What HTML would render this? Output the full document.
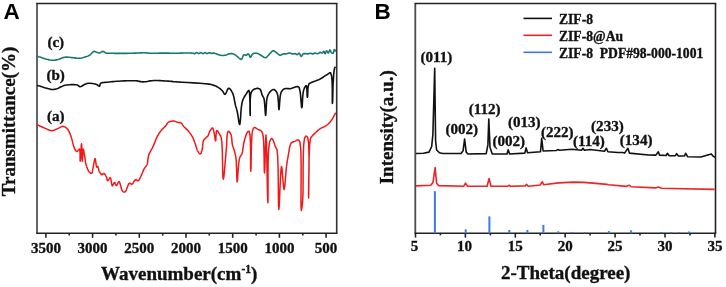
<!DOCTYPE html>
<html><head><meta charset="utf-8"><style>
html,body{margin:0;padding:0;background:#fff;}
svg{display:block;will-change:transform;}
.ax{stroke:#222;stroke-width:1.6;}
.tk{font-family:"Liberation Serif",serif;font-weight:bold;font-size:15px;text-anchor:middle;fill:#111;stroke:#111;stroke-width:0.35px;}
.lb{font-family:"Liberation Serif",serif;font-weight:bold;font-size:15.1px;fill:#111;stroke:#111;stroke-width:0.35px;}
.tt{font-family:"Liberation Serif",serif;font-weight:bold;font-size:19px;fill:#111;stroke:#111;stroke-width:0.35px;}
.lg{font-family:"Liberation Serif",serif;font-weight:bold;font-size:13.6px;fill:#111;stroke:#111;stroke-width:0.35px;}
.pn{font-family:"Liberation Sans",sans-serif;font-weight:bold;font-size:22.5px;fill:#000;}
.bl{stroke:#3f7ae0;stroke-width:2;}
polyline{fill:none;stroke-linejoin:round;}
</style></head><body>
<svg width="726" height="287" viewBox="0 0 726 287">
<text x="3.6" y="18.8" class="pn">A</text>
<text x="374.6" y="19.3" class="pn">B</text>
<!-- panel A frame -->
<line x1="37" y1="3.5" x2="37" y2="233.3" stroke="#555" stroke-width="1.8"/>
<line x1="36.2" y1="3.5" x2="337.5" y2="3.5" stroke="#222" stroke-width="1.6"/>
<line x1="336.7" y1="3.5" x2="336.7" y2="233.3" stroke="#333" stroke-width="1.6"/>
<line x1="36.2" y1="233.3" x2="337.5" y2="233.3" stroke="#222" stroke-width="1.6"/>
<!-- panel B frame -->
<line x1="415.3" y1="3.5" x2="415.3" y2="233.3" stroke="#4a4a4a" stroke-width="1.8"/>
<line x1="414.5" y1="3.5" x2="716.3" y2="3.5" stroke="#222" stroke-width="1.6"/>
<line x1="715.5" y1="3.5" x2="715.5" y2="233.3" stroke="#222" stroke-width="1.6"/>
<line x1="414.5" y1="233.3" x2="716.3" y2="233.3" stroke="#222" stroke-width="1.6"/>
<line x1="326.1" y1="233.3" x2="326.1" y2="237.8" class="ax"/><line x1="279.4" y1="233.3" x2="279.4" y2="237.8" class="ax"/><line x1="232.7" y1="233.3" x2="232.7" y2="237.8" class="ax"/><line x1="186.0" y1="233.3" x2="186.0" y2="237.8" class="ax"/><line x1="139.3" y1="233.3" x2="139.3" y2="237.8" class="ax"/><line x1="92.6" y1="233.3" x2="92.6" y2="237.8" class="ax"/><line x1="45.9" y1="233.3" x2="45.9" y2="237.8" class="ax"/><line x1="302.8" y1="233.3" x2="302.8" y2="235.6" class="ax"/><line x1="256.1" y1="233.3" x2="256.1" y2="235.6" class="ax"/><line x1="209.3" y1="233.3" x2="209.3" y2="235.6" class="ax"/><line x1="162.7" y1="233.3" x2="162.7" y2="235.6" class="ax"/><line x1="115.9" y1="233.3" x2="115.9" y2="235.6" class="ax"/><line x1="69.2" y1="233.3" x2="69.2" y2="235.6" class="ax"/><line x1="415.5" y1="233.3" x2="415.5" y2="237.6" class="ax"/><line x1="465.4" y1="233.3" x2="465.4" y2="237.6" class="ax"/><line x1="515.3" y1="233.3" x2="515.3" y2="237.6" class="ax"/><line x1="565.2" y1="233.3" x2="565.2" y2="237.6" class="ax"/><line x1="615.1" y1="233.3" x2="615.1" y2="237.6" class="ax"/><line x1="665.0" y1="233.3" x2="665.0" y2="237.6" class="ax"/><line x1="714.9" y1="233.3" x2="714.9" y2="237.6" class="ax"/><line x1="440.4" y1="233.3" x2="440.4" y2="235.4" class="ax"/><line x1="490.4" y1="233.3" x2="490.4" y2="235.4" class="ax"/><line x1="540.2" y1="233.3" x2="540.2" y2="235.4" class="ax"/><line x1="590.1" y1="233.3" x2="590.1" y2="235.4" class="ax"/><line x1="640.0" y1="233.3" x2="640.0" y2="235.4" class="ax"/><line x1="690.0" y1="233.3" x2="690.0" y2="235.4" class="ax"/>
<text x="326.1" y="252.9" class="tk">500</text><text x="279.4" y="252.9" class="tk">1000</text><text x="232.7" y="252.9" class="tk">1500</text><text x="186.0" y="252.9" class="tk">2000</text><text x="139.3" y="252.9" class="tk">2500</text><text x="92.6" y="252.9" class="tk">3000</text><text x="45.9" y="252.9" class="tk">3500</text><text x="414.5" y="250.6" class="tk">5</text><text x="464.4" y="250.6" class="tk">10</text><text x="515.3" y="250.6" class="tk">15</text><text x="565.2" y="250.6" class="tk">20</text><text x="615.1" y="250.6" class="tk">25</text><text x="665.0" y="250.6" class="tk">30</text><text x="714.9" y="250.6" class="tk">35</text>
<text x="101" y="279.8" class="tt">Wavenumber(cm<tspan dy="-6.5" font-size="11.5px">-1</tspan><tspan dy="6.5">)</tspan></text>
<text x="501" y="279.3" class="tt">2-Theta(degree)</text>
<text transform="translate(14.8,121.5) rotate(-90)" text-anchor="middle" class="tt">Transmittance(%)</text>
<text transform="translate(393.4,127.3) rotate(-90)" text-anchor="middle" class="tt">Intensity(a.u.)</text>
<text x="47.4" y="46.5" class="lb">(c)</text>
<text x="46.4" y="80" class="lb">(b)</text>
<text x="47" y="121.3" class="lb">(a)</text>
<polyline points="37.4,56.2 37.7,56.3 38.6,56.7 39.8,57.1 41.2,57.6 42.7,58.1 44.0,58.5 45.4,58.9 46.8,59.3 48.3,59.6 49.8,60.0 51.2,60.2 52.5,60.3 53.5,60.3 54.4,60.2 55.3,60.1 56.2,59.9 57.1,59.7 58.0,59.5 59.1,59.2 60.2,58.7 61.4,58.3 62.6,57.8 63.7,57.4 64.9,57.2 66.1,57.1 67.2,57.1 68.4,57.2 69.6,57.3 70.8,57.5 72.0,57.6 73.3,57.7 74.7,57.9 76.1,58.1 77.5,58.2 78.8,58.3 80.0,58.3 80.9,58.2 81.8,58.0 82.6,57.8 83.4,57.5 84.2,57.3 85.0,57.0 85.8,56.7 86.6,56.5 87.4,56.2 88.2,55.9 89.0,55.5 89.7,55.1 90.5,54.5 91.2,53.8 91.9,53.0 92.6,52.3 93.3,51.7 93.9,51.4 94.3,51.4 94.6,51.4 94.9,51.5 95.3,51.7 95.6,51.9 96.0,52.0 96.5,52.2 97.1,52.4 97.7,52.6 98.2,52.8 98.8,53.0 99.4,53.0 100.0,52.8 100.5,52.5 101.1,52.2 101.7,51.8 102.2,51.5 102.8,51.4 103.3,51.5 103.9,51.8 104.4,52.1 104.9,52.5 105.5,52.9 106.1,53.1 107.0,53.3 107.9,53.3 108.9,53.3 109.9,53.3 110.9,53.3 112.0,53.3 113.3,53.3 114.5,53.4 115.9,53.4 117.2,53.4 118.6,53.4 120.0,53.4 121.6,53.4 123.2,53.4 124.8,53.4 126.5,53.4 128.2,53.3 130.0,53.3 132.4,53.2 135.1,53.1 137.8,53.0 140.5,52.9 142.9,52.8 145.0,52.8 146.0,52.9 146.8,52.9 147.5,53.0 148.3,53.1 149.1,53.2 150.0,53.3 151.7,53.3 153.6,53.3 155.6,53.3 157.8,53.2 159.9,53.1 162.0,53.1 164.1,53.1 166.2,53.1 168.4,53.1 170.5,53.2 172.7,53.2 175.0,53.2 177.9,53.2 181.1,53.1 184.3,53.0 187.4,53.0 190.0,53.0 192.0,53.1 192.6,53.2 193.1,53.3 193.5,53.4 193.8,53.5 194.2,53.6 194.6,53.6 195.0,53.5 195.3,53.3 195.7,53.1 196.0,52.8 196.4,52.7 196.7,52.6 197.1,52.7 197.4,52.9 197.8,53.1 198.1,53.3 198.5,53.5 198.8,53.6 199.1,53.5 199.5,53.3 199.8,53.1 200.1,52.9 200.5,52.7 200.8,52.6 201.1,52.7 201.5,52.9 201.8,53.1 202.2,53.3 202.5,53.5 202.9,53.6 203.3,53.5 203.6,53.3 204.0,53.1 204.3,52.9 204.7,52.7 205.0,52.6 205.3,52.7 205.7,52.9 206.0,53.1 206.3,53.3 206.7,53.5 207.0,53.6 207.3,53.5 207.7,53.4 208.0,53.2 208.4,53.0 208.7,52.8 209.1,52.7 209.5,52.7 209.9,52.8 210.3,53.0 210.7,53.2 211.1,53.3 211.5,53.4 211.9,53.4 212.3,53.3 212.7,53.2 213.1,53.1 213.5,53.1 214.0,53.1 214.6,53.2 215.3,53.5 216.0,53.7 216.8,54.1 217.5,54.4 218.2,54.6 218.8,54.8 219.5,55.0 220.1,55.2 220.8,55.3 221.4,55.4 222.0,55.5 222.6,55.5 223.1,55.5 223.6,55.5 224.2,55.4 224.7,55.3 225.3,55.2 226.1,55.0 226.9,54.7 227.8,54.3 228.6,54.0 229.5,53.7 230.3,53.6 231.0,53.6 231.7,53.6 232.4,53.8 233.1,53.9 233.8,54.1 234.4,54.4 235.0,54.7 235.6,55.1 236.1,55.5 236.6,56.0 237.2,56.5 237.7,56.9 238.3,57.4 238.9,58.0 239.5,58.5 240.1,59.0 240.7,59.3 241.2,59.4 241.7,59.0 242.2,58.2 242.6,57.2 243.0,56.1 243.4,55.3 243.9,54.8 244.2,54.7 244.6,54.8 244.9,54.9 245.3,55.1 245.6,55.2 246.0,55.2 246.4,55.1 246.8,54.8 247.2,54.5 247.6,54.2 248.0,54.0 248.4,54.0 248.8,54.3 249.2,55.0 249.5,55.7 249.8,56.5 250.2,57.1 250.5,57.3 250.8,57.1 251.1,56.6 251.4,55.9 251.8,55.2 252.1,54.5 252.6,54.0 253.2,53.7 253.8,53.4 254.5,53.3 255.3,53.2 256.0,53.1 256.7,53.2 257.4,53.4 258.1,53.6 258.8,54.0 259.4,54.4 260.1,54.8 260.8,55.2 261.6,55.7 262.3,56.2 263.1,56.8 263.9,57.3 264.7,57.6 265.4,57.7 266.2,57.4 267.0,56.8 267.7,56.0 268.5,55.2 269.2,54.3 269.9,53.6 270.5,53.0 271.0,52.4 271.6,51.8 272.1,51.3 272.6,50.9 273.2,50.7 273.7,50.8 274.3,51.0 274.8,51.4 275.4,51.8 276.0,52.3 276.5,52.7 277.1,53.1 277.6,53.7 278.2,54.2 278.8,54.6 279.3,55.0 279.9,55.2 280.4,55.2 281.0,55.0 281.5,54.7 282.1,54.4 282.6,54.2 283.2,54.0 283.7,53.9 284.3,53.9 284.8,53.9 285.3,53.9 285.9,53.9 286.4,53.8 286.9,53.7 287.5,53.5 288.0,53.3 288.5,53.2 289.1,53.0 289.6,53.0 290.1,53.1 290.7,53.3 291.2,53.5 291.8,53.7 292.3,53.9 292.8,54.0 293.2,54.0 293.6,53.9 294.0,53.8 294.4,53.7 294.8,53.6 295.2,53.6 295.6,53.7 295.9,53.9 296.2,54.2 296.6,54.4 296.9,54.6 297.2,54.6 297.5,54.5 297.9,54.2 298.2,53.8 298.6,53.5 298.9,53.3 299.2,53.2 299.6,53.5 299.9,54.1 300.2,54.8 300.5,55.6 300.9,56.2 301.2,56.4 301.5,56.3 301.8,55.9 302.1,55.4 302.5,54.8 302.8,54.3 303.2,54.0 303.6,53.8 304.0,53.7 304.4,53.6 304.8,53.6 305.2,53.6 305.6,53.6 306.0,53.6 306.4,53.7 306.8,53.8 307.2,53.9 307.6,54.0 308.0,54.0 308.4,53.9 308.8,53.8 309.2,53.6 309.6,53.4 310.0,53.3 310.4,53.2 310.8,53.3 311.2,53.4 311.6,53.6 311.9,53.8 312.3,53.9 312.7,54.0 313.1,53.9 313.5,53.7 313.9,53.5 314.3,53.3 314.7,53.1 315.1,53.0 315.5,53.1 315.9,53.2 316.3,53.4 316.7,53.6 317.1,53.8 317.5,53.8 317.9,53.7 318.3,53.4 318.8,53.1 319.2,52.8 319.6,52.5 320.0,52.4 320.4,52.4 320.8,52.6 321.2,52.7 321.6,52.9 322.0,53.0 322.3,53.0 322.6,52.8 322.9,52.5 323.2,52.1 323.4,51.7 323.7,51.5 323.9,51.4 324.1,51.6 324.3,52.1 324.5,52.6 324.7,53.2 324.9,53.6 325.1,53.8 325.3,53.6 325.6,53.0 325.9,52.3 326.1,51.6 326.4,51.0 326.7,50.8 327.0,51.0 327.2,51.4 327.5,51.9 327.8,52.4 328.0,52.8 328.3,53.0 328.6,52.8 328.8,52.2 329.1,51.5 329.4,50.8 329.6,50.2 329.9,50.0 330.2,50.2 330.4,50.6 330.7,51.2 330.9,51.9 331.2,52.4 331.5,52.8 331.8,53.0 332.0,53.1 332.3,53.2 332.6,53.3 332.9,53.3 333.1,53.2 333.4,52.8 333.6,52.1 333.7,51.3 333.9,50.5 334.1,49.9 334.3,49.6 334.6,49.7 334.9,50.1 335.2,50.5 335.5,51.0 335.7,51.4 335.8,51.5" stroke="#16786f" stroke-width="1.6"/>
<polyline points="37.0,85.3 37.4,85.4 38.3,85.7 39.6,86.1 41.1,86.6 42.6,87.1 44.0,87.5 45.4,87.9 46.9,88.3 48.4,88.7 49.9,89.1 51.2,89.4 52.5,89.5 53.3,89.5 54.0,89.4 54.6,89.3 55.3,89.2 55.9,89.0 56.7,88.8 57.9,88.4 59.2,87.7 60.5,87.0 61.9,86.4 63.4,85.7 64.9,85.3 66.9,85.0 69.2,84.7 71.5,84.6 73.8,84.6 75.7,84.7 77.3,85.0 77.9,85.2 78.3,85.6 78.7,86.0 79.1,86.3 79.5,86.6 80.0,86.7 81.0,86.5 82.0,86.0 83.2,85.3 84.4,84.5 85.7,83.9 87.0,83.5 88.6,83.3 90.3,83.3 92.1,83.5 93.8,83.7 95.3,84.0 96.6,84.4 97.2,84.7 97.7,85.1 98.2,85.6 98.7,86.0 99.0,86.3 99.4,86.3 99.7,86.1 99.8,85.6 100.0,85.0 100.1,84.3 100.3,83.8 100.7,83.3 101.5,82.9 102.5,82.6 103.7,82.5 105.0,82.4 106.3,82.3 107.6,82.2 109.3,82.0 111.0,81.8 112.8,81.6 114.6,81.5 116.6,81.3 118.6,81.2 121.4,81.0 124.4,80.9 127.5,80.8 130.6,80.7 133.5,80.7 136.0,80.8 137.3,80.9 138.5,81.2 139.5,81.4 140.6,81.6 141.7,81.8 142.9,81.9 144.6,81.8 146.4,81.6 148.2,81.3 150.1,80.9 152.0,80.7 153.9,80.5 155.9,80.5 158.0,80.5 160.1,80.6 162.2,80.7 164.3,80.9 166.3,81.0 168.1,81.1 169.8,81.3 171.5,81.4 173.2,81.6 175.1,81.7 177.3,81.9 182.0,82.2 187.8,82.5 194.0,82.9 200.0,83.3 205.3,83.7 209.0,84.1 209.9,84.3 210.7,84.4 211.3,84.5 211.9,84.7 212.5,84.9 213.1,85.1 213.9,85.4 214.7,85.6 215.5,85.9 216.3,86.3 217.0,86.7 217.8,87.1 218.6,87.6 219.5,88.3 220.3,88.9 221.1,89.6 221.8,90.3 222.5,91.0 223.0,91.6 223.4,92.4 223.8,93.1 224.1,93.8 224.5,94.2 224.9,94.4 225.5,93.9 226.1,92.8 226.8,91.3 227.4,89.8 228.1,88.7 228.8,88.2 229.5,88.4 230.1,89.0 230.8,89.9 231.5,91.0 232.1,92.2 232.7,93.3 233.3,95.0 233.9,97.1 234.3,99.3 234.7,101.5 235.1,103.6 235.5,105.4 235.8,106.5 236.1,107.4 236.4,108.3 236.6,109.2 236.9,110.2 237.2,111.3 237.6,113.5 238.1,116.3 238.5,119.2 238.9,121.9 239.3,123.8 239.7,124.5 240.0,123.5 240.3,121.0 240.6,117.5 240.8,113.6 241.1,109.9 241.4,107.0 241.6,105.6 241.8,104.2 242.0,103.0 242.3,101.9 242.6,100.7 243.0,99.6 243.5,98.5 244.0,97.5 244.6,96.5 245.2,95.5 245.8,94.6 246.4,93.7 246.8,93.0 247.3,92.2 247.7,91.5 248.2,90.9 248.6,90.5 248.9,90.4 249.5,92.4 249.8,97.1 250.0,103.1 250.0,109.0 250.1,113.6 250.2,115.4 250.3,113.9 250.2,110.2 250.2,105.2 250.2,99.9 250.6,95.1 251.4,92.0 252.0,91.1 252.6,90.4 253.3,89.8 254.1,89.3 254.8,89.0 255.6,88.7 256.3,88.5 257.0,88.4 257.8,88.4 258.5,88.5 259.2,88.7 259.8,89.0 260.4,89.7 260.9,90.7 261.3,91.9 261.6,93.2 261.9,94.4 262.3,95.4 262.6,96.0 262.9,96.5 263.2,96.9 263.5,97.4 263.8,98.0 264.0,98.7 264.4,101.1 264.7,104.5 265.0,108.3 265.2,111.8 265.4,114.4 265.6,115.4 265.8,114.3 266.0,111.6 266.2,107.8 266.4,103.7 266.7,99.9 267.3,97.0 267.7,95.8 268.2,94.6 268.8,93.6 269.3,92.7 270.0,91.9 270.6,91.2 271.1,90.7 271.7,90.3 272.3,89.9 272.9,89.6 273.5,89.5 274.0,89.5 274.6,89.8 275.2,90.3 275.8,91.0 276.4,91.8 276.9,92.7 277.3,93.7 277.9,96.1 278.2,99.4 278.5,103.0 278.6,106.3 278.8,108.7 279.0,109.6 279.2,108.7 279.4,106.3 279.6,103.0 279.9,99.4 280.2,96.1 280.7,93.7 281.0,92.8 281.4,91.9 281.8,91.2 282.3,90.5 282.7,90.0 283.2,89.5 283.5,89.3 283.8,89.1 284.1,88.9 284.4,88.8 284.8,88.7 285.2,88.6 285.9,88.5 286.7,88.5 287.6,88.6 288.6,88.6 289.5,88.7 290.5,88.6 291.8,88.3 293.2,87.8 294.7,87.3 296.1,86.8 297.3,86.6 298.3,86.8 298.8,87.2 299.2,87.8 299.4,88.5 299.6,89.3 299.8,90.2 300.0,91.2 300.4,93.7 300.7,97.2 301.0,100.9 301.3,104.3 301.5,106.8 301.8,107.8 302.1,106.8 302.3,104.1 302.5,100.5 302.7,96.6 303.1,93.0 303.6,90.3 304.0,89.2 304.4,88.1 304.9,87.1 305.4,86.3 305.8,85.8 306.2,85.6 306.6,86.5 306.8,88.7 307.0,91.5 307.1,94.3 307.2,96.4 307.4,97.3 307.6,96.5 307.7,94.4 307.8,91.6 307.9,88.6 308.3,85.9 308.8,84.2 309.1,83.7 309.5,83.4 309.9,83.2 310.4,83.0 310.9,82.8 311.4,82.5 312.6,82.0 314.0,81.4 315.5,80.9 317.1,80.3 318.7,79.7 320.1,79.0 321.4,78.3 322.6,77.5 323.8,76.7 325.0,75.9 326.1,75.2 327.1,74.6 327.8,74.2 328.4,73.7 329.0,73.3 329.6,72.9 330.1,72.8 330.6,72.9 331.6,75.7 332.1,81.5 332.3,88.7 332.3,95.8 332.3,101.2 332.4,103.4 332.6,102.3 332.7,99.4 332.8,95.3 332.9,90.7 333.0,86.2 333.2,82.5 333.4,79.8 333.5,77.1 333.7,74.5 333.9,72.1 334.2,70.0 334.5,68.5 334.7,68.0 334.9,67.6 335.1,67.3 335.3,67.0 335.4,66.8 335.5,66.7" stroke="#111" stroke-width="1.6"/>
<polyline points="37.0,124.6 37.4,124.8 38.4,125.3 39.9,126.0 41.6,126.7 43.3,127.5 44.7,128.1 45.9,128.6 47.1,129.2 48.2,129.8 49.4,130.2 50.5,130.6 51.7,130.7 52.9,130.6 54.1,130.2 55.3,129.7 56.5,129.1 57.6,128.6 58.7,128.1 59.5,127.7 60.2,127.3 60.9,126.9 61.6,126.6 62.3,126.4 63.0,126.3 63.8,126.4 64.5,126.8 65.3,127.2 66.0,127.7 66.7,128.3 67.4,129.0 68.1,129.9 68.7,130.9 69.3,132.1 69.9,133.3 70.4,134.7 70.9,136.0 71.5,137.9 72.1,140.1 72.6,142.4 73.2,144.6 73.8,146.6 74.4,148.2 74.8,149.0 75.2,149.8 75.7,150.5 76.1,151.1 76.6,151.4 77.0,151.6 77.4,151.4 77.8,150.9 78.3,150.2 78.7,149.6 79.1,149.1 79.4,149.0 79.8,150.0 80.0,152.3 80.1,155.2 80.1,158.1 80.1,160.3 80.2,161.2 80.4,159.9 80.6,156.7 80.9,152.4 81.1,148.2 81.3,145.0 81.5,143.7 81.7,145.0 81.8,148.2 81.9,152.5 82.0,156.7 82.2,159.9 82.3,161.2 82.4,160.3 82.5,158.0 82.7,155.1 82.8,152.2 83.0,149.9 83.2,149.0 83.4,149.3 83.6,150.2 83.9,151.5 84.1,153.1 84.4,154.6 84.6,156.0 84.9,157.5 85.1,159.1 85.3,160.8 85.6,162.5 85.9,164.0 86.3,165.5 86.7,166.7 87.1,167.8 87.5,168.9 88.0,169.9 88.5,170.8 89.0,171.6 89.4,172.1 89.9,172.5 90.3,172.9 90.8,173.3 91.2,173.4 91.6,173.4 92.0,172.9 92.4,171.9 92.6,170.7 92.8,169.2 93.0,167.7 93.3,166.4 93.6,164.9 93.9,163.3 94.2,161.5 94.5,160.1 94.8,159.0 95.1,158.6 95.4,159.2 95.6,160.8 95.9,162.9 96.2,164.9 96.5,166.6 96.8,167.3 96.9,167.3 97.1,167.1 97.2,166.9 97.4,166.6 97.6,166.4 97.7,166.4 98.0,166.7 98.2,167.5 98.5,168.5 98.7,169.6 99.0,170.7 99.4,171.6 99.8,172.3 100.2,173.0 100.6,173.6 101.1,174.2 101.6,174.6 102.0,174.8 102.3,174.7 102.6,174.4 102.9,174.1 103.2,173.7 103.5,173.5 103.8,173.4 104.2,173.6 104.7,174.1 105.2,174.7 105.6,175.5 106.0,176.2 106.4,176.9 106.7,177.6 106.8,178.4 107.0,179.2 107.1,179.9 107.3,180.5 107.6,180.7 108.0,180.5 108.4,179.9 108.9,179.1 109.4,178.4 109.8,177.8 110.2,177.6 110.6,178.3 111.0,179.8 111.3,181.8 111.6,183.7 111.9,185.2 112.3,185.9 112.6,185.7 113.0,185.1 113.4,184.2 113.8,183.4 114.2,182.7 114.6,182.5 114.9,182.7 115.2,183.3 115.4,184.0 115.7,184.8 116.0,185.4 116.3,185.6 116.7,185.3 117.2,184.6 117.6,183.6 118.1,182.6 118.6,181.9 119.0,181.6 119.6,182.3 120.1,183.8 120.7,185.9 121.2,188.1 121.8,190.0 122.5,191.2 122.9,191.5 123.3,191.8 123.7,192.0 124.2,192.1 124.6,192.1 125.0,192.0 125.8,191.2 126.5,189.6 127.2,187.6 127.9,185.7 128.6,184.1 129.4,183.3 129.8,183.3 130.3,183.4 130.7,183.7 131.1,184.0 131.6,184.2 132.0,184.2 132.6,183.8 133.2,183.0 133.7,182.0 134.3,181.0 134.9,180.2 135.5,179.8 135.9,179.8 136.4,180.0 136.9,180.3 137.3,180.6 137.8,180.7 138.2,180.7 138.8,180.2 139.4,179.4 140.0,178.2 140.6,177.0 141.1,175.7 141.6,174.6 142.1,173.6 142.5,172.5 143.0,171.4 143.4,170.4 143.8,169.4 144.3,168.5 144.7,167.9 145.2,167.3 145.6,166.8 146.1,166.3 146.5,165.7 146.9,165.0 147.3,163.7 147.6,162.1 147.8,160.3 148.0,158.5 148.3,156.8 148.7,155.1 149.3,153.6 150.0,152.2 150.8,150.7 151.6,149.3 152.4,147.9 153.1,146.4 153.8,144.7 154.6,142.9 155.3,141.1 156.0,139.3 156.7,137.6 157.5,136.0 158.2,134.8 158.9,133.7 159.6,132.6 160.3,131.6 161.1,130.7 161.8,129.8 162.4,129.1 163.0,128.6 163.6,128.0 164.1,127.5 164.7,126.9 165.3,126.3 165.9,125.6 166.4,124.8 166.9,124.0 167.5,123.2 168.1,122.5 168.8,122.0 169.6,121.6 170.4,121.4 171.4,121.2 172.3,121.1 173.2,121.1 174.0,121.1 174.6,121.2 175.2,121.4 175.8,121.6 176.4,121.9 176.9,122.1 177.5,122.3 178.1,122.4 178.7,122.5 179.3,122.5 179.9,122.5 180.5,122.7 181.0,122.9 181.5,123.3 181.9,123.8 182.3,124.4 182.7,125.0 183.1,125.7 183.6,126.3 184.3,127.0 185.0,127.7 185.7,128.4 186.5,129.1 187.3,129.9 188.0,130.7 188.8,131.6 189.5,132.6 190.3,133.6 191.0,134.6 191.7,135.7 192.4,136.8 193.1,138.2 193.7,139.6 194.3,141.2 194.8,142.7 195.3,144.1 195.8,145.5 196.1,146.5 196.4,147.4 196.7,148.3 196.9,149.2 197.2,150.0 197.6,150.8 198.0,151.5 198.4,152.2 198.9,152.9 199.4,153.5 199.8,153.9 200.2,154.0 200.5,153.8 200.9,153.4 201.2,152.8 201.5,152.1 201.7,151.3 202.0,150.5 202.3,149.0 202.6,147.2 202.7,145.2 202.9,143.2 203.2,141.5 203.7,140.1 204.1,139.5 204.5,139.0 205.0,138.6 205.4,138.2 205.9,137.9 206.3,137.5 206.6,137.2 206.9,136.9 207.2,136.7 207.5,136.4 207.8,136.1 208.1,135.7 208.4,135.1 208.7,134.4 208.9,133.6 209.2,132.8 209.5,132.0 209.8,131.3 210.2,130.6 210.7,129.8 211.2,129.1 211.7,128.5 212.1,128.0 212.5,127.9 212.8,128.1 213.0,128.5 213.2,129.1 213.4,129.8 213.6,130.6 213.8,131.3 214.1,132.8 214.5,134.8 214.8,137.0 215.1,138.9 215.3,140.4 215.6,140.9 215.8,140.1 215.9,138.3 216.0,135.8 216.2,133.3 216.4,131.4 216.8,130.5 217.2,130.6 217.6,131.1 218.1,131.7 218.5,132.5 219.0,133.3 219.4,134.0 219.7,134.5 220.1,135.0 220.4,135.5 220.7,136.0 220.9,136.7 221.2,137.5 221.9,142.7 222.3,151.0 222.5,160.7 222.7,169.8 222.9,176.5 223.3,179.2 223.8,177.5 224.3,173.0 224.8,166.9 225.4,159.9 225.9,153.3 226.4,147.9 226.7,144.5 226.8,140.9 227.0,137.4 227.2,134.4 227.6,132.3 228.2,131.3 228.6,131.3 229.0,131.6 229.5,132.1 230.0,132.6 230.4,133.3 230.8,134.0 231.3,135.5 231.6,137.3 231.8,139.4 232.0,141.6 232.2,143.6 232.5,145.3 232.8,146.3 233.1,147.1 233.4,148.0 233.7,148.8 234.0,149.6 234.3,150.5 234.6,151.7 234.9,152.8 235.2,154.1 235.5,155.4 235.8,156.8 236.0,158.4 236.3,162.1 236.5,167.0 236.7,172.2 236.8,177.0 237.0,180.5 237.2,181.8 237.5,180.4 237.7,176.8 238.0,171.9 238.4,166.7 238.9,161.8 239.5,158.4 239.9,157.3 240.3,156.4 240.8,155.7 241.3,154.9 241.7,154.1 242.1,153.2 242.5,151.7 242.8,150.0 243.0,148.2 243.3,146.3 243.5,144.5 243.9,142.7 244.4,140.8 244.9,138.7 245.5,136.7 246.1,134.8 246.8,133.3 247.4,132.2 247.7,131.9 248.0,131.6 248.3,131.4 248.6,131.3 248.8,131.2 249.1,131.3 250.0,134.7 250.4,142.2 250.6,151.8 250.6,161.2 250.6,168.4 250.8,171.3 251.0,168.7 251.1,162.0 251.3,153.0 251.5,143.6 251.9,135.5 252.6,130.5 252.9,129.7 253.1,129.0 253.4,128.5 253.7,128.0 254.0,127.7 254.4,127.5 254.9,127.5 255.4,127.7 256.0,128.1 256.6,128.5 257.2,128.9 257.8,129.3 258.4,129.6 259.0,129.8 259.7,130.0 260.3,130.3 260.8,130.6 261.3,131.0 261.7,131.6 262.1,132.2 262.4,132.9 262.6,133.8 262.9,134.8 263.1,135.9 263.6,140.9 263.9,148.4 264.1,156.9 264.2,164.8 264.3,170.7 264.5,173.0 264.7,170.2 265.0,163.1 265.2,154.0 265.5,144.9 265.8,137.8 266.0,135.0 266.3,140.0 266.7,152.6 267.0,168.9 267.3,185.2 267.6,197.8 267.9,202.8 268.0,198.9 268.0,189.1 268.0,176.0 268.1,162.2 268.5,150.3 269.4,142.9 269.7,141.7 270.1,140.7 270.5,139.8 271.0,139.1 271.4,138.7 271.8,138.5 272.2,138.7 272.6,139.4 273.1,140.2 273.5,141.2 273.9,142.2 274.2,143.0 274.4,143.6 274.6,144.2 274.8,144.7 274.9,145.3 275.1,145.8 275.3,146.4 275.6,146.9 275.8,147.4 276.1,147.8 276.4,148.3 276.7,149.0 277.0,149.8 277.7,156.8 278.1,168.6 278.3,182.4 278.4,195.6 278.5,205.5 278.8,209.4 279.2,206.2 279.6,198.3 280.0,187.9 280.5,177.6 281.0,169.6 281.5,166.4 281.9,168.1 282.3,172.4 282.8,177.9 283.2,183.5 283.7,187.8 284.1,189.5 284.5,188.2 284.9,184.9 285.3,180.2 285.7,175.1 286.1,170.2 286.5,166.4 286.8,164.5 287.0,162.8 287.2,161.2 287.5,159.7 287.8,158.1 288.1,156.4 288.5,154.1 288.9,151.6 289.3,149.0 289.8,146.6 290.4,144.6 291.2,143.1 291.7,142.6 292.3,142.2 292.9,142.0 293.5,141.8 294.1,141.6 294.7,141.4 295.3,141.1 295.9,140.8 296.5,140.4 297.2,140.1 297.7,140.0 298.2,140.0 298.6,140.1 298.9,140.4 299.2,140.7 299.4,141.1 299.7,141.6 299.9,142.2 300.8,149.6 301.1,162.9 301.1,178.8 301.0,194.2 301.0,205.8 301.3,210.4 301.5,210.0 301.7,208.8 302.0,207.1 302.2,204.9 302.5,202.5 302.7,200.0 303.0,192.0 303.1,180.8 303.1,168.3 303.3,156.1 303.6,145.9 304.3,139.6 304.5,138.7 304.8,137.8 305.1,137.2 305.4,136.6 305.7,136.3 306.0,136.1 306.3,136.1 306.6,136.3 306.9,136.5 307.2,136.9 307.5,137.3 307.8,137.9 308.7,144.4 309.0,156.0 309.0,170.1 308.7,183.6 308.6,193.9 308.6,197.9 308.7,194.0 308.8,184.1 308.9,170.8 309.1,157.1 309.6,145.4 310.4,138.7 310.6,138.0 310.9,137.6 311.1,137.2 311.4,136.9 311.7,136.5 312.1,136.1 312.8,135.3 313.7,134.4 314.6,133.5 315.6,132.5 316.5,131.7 317.4,130.9 318.0,130.4 318.5,129.9 319.1,129.5 319.6,129.1 320.2,128.7 320.8,128.3 321.6,127.9 322.5,127.5 323.4,127.1 324.3,126.7 325.2,126.2 326.1,125.7 327.0,125.0 327.9,124.2 328.8,123.4 329.7,122.5 330.5,121.5 331.3,120.5 332.2,119.1 333.2,117.4 334.1,115.7 334.9,114.1 335.5,113.0 335.7,112.6" stroke="#f01818" stroke-width="1.5"/>
<line x1="434.9" y1="233.3" x2="434.9" y2="191.2" class="bl"/><line x1="465.7" y1="233.3" x2="465.7" y2="229.4" class="bl"/><line x1="489.4" y1="233.3" x2="489.4" y2="216.4" class="bl"/><line x1="509.3" y1="233.3" x2="509.3" y2="229.9" class="bl"/><line x1="527.4" y1="233.3" x2="527.4" y2="229.9" class="bl"/><line x1="543.4" y1="233.3" x2="543.4" y2="224.9" class="bl"/><line x1="558.2" y1="233.3" x2="558.2" y2="231.3" class="bl"/><line x1="572.0" y1="233.3" x2="572.0" y2="232.0" class="bl"/><line x1="584.9" y1="233.3" x2="584.9" y2="232.0" class="bl"/><line x1="608.9" y1="233.3" x2="608.9" y2="231.1" class="bl"/><line x1="631.1" y1="233.3" x2="631.1" y2="230.3" class="bl"/><line x1="661.3" y1="233.3" x2="661.3" y2="232.0" class="bl"/><line x1="670.7" y1="233.3" x2="670.7" y2="232.0" class="bl"/><line x1="679.5" y1="233.3" x2="679.5" y2="232.0" class="bl"/><line x1="688.9" y1="233.3" x2="688.9" y2="231.5" class="bl"/>
<polyline points="416.0,153.5 423.4,153.2 429.0,152.1 431.7,146.5 432.9,134.0 434.7,68.2 435.6,141.0 436.6,150.0 439.4,152.8 442.9,153.5 461.0,153.5 463.1,150.7 464.6,139.0 466.2,152.1 468.0,154.0 486.2,153.6 487.9,144.9 488.8,119.0 490.0,147.5 492.3,154.0 507.0,154.0 508.2,149.8 509.6,154.0 524.8,153.1 526.1,147.9 527.5,152.8 540.5,151.7 541.7,138.3 543.1,151.0 556.2,150.5 557.9,149.6 559.5,150.3 571.9,149.3 581.5,150.2 583.0,148.3 584.4,150.2 590.0,149.5 604.5,151.2 606.4,148.3 607.9,151.8 617.9,152.5 622.7,152.5 624.6,153.1 627.9,148.3 629.4,153.1 648.5,155.0 655.9,155.1 658.3,151.8 659.5,155.1 666.2,155.5 667.4,153.3 669.3,155.7 675.4,155.7 676.6,153.7 678.4,156.0 684.5,156.0 685.7,153.3 687.6,156.7 701.0,157.0 703.4,156.3 711.3,153.9 713.2,156.3 715.0,157.2" stroke="#111" stroke-width="1.6"/>
<polyline points="416.0,185.9 430.7,185.3 433.0,182.4 435.1,167.5 436.6,183.2 438.5,185.6 463.6,186.3 465.5,183.2 467.5,186.3 487.1,186.3 489.1,178.5 491.0,186.3 507.5,186.3 509.0,185.3 510.5,186.2 525.2,185.9 526.7,184.4 528.2,186.2 540.3,185.0 542.3,181.7 543.6,184.7 558.5,182.9 573.6,182.1 584.2,182.4 607.0,184.4 608.5,184.7 626.7,186.4 628.9,185.2 631.2,186.7 655.5,187.9 658.5,187.1 661.5,188.2 670.6,188.5 714.5,189.4" stroke="#ee2424" stroke-width="1.6"/>
<line x1="523.5" y1="18.4" x2="552" y2="18.4" stroke="#111" stroke-width="1.6"/>
<line x1="523.5" y1="35.3" x2="552" y2="35.3" stroke="#ee2424" stroke-width="1.6"/>
<line x1="523.5" y1="52.3" x2="552" y2="52.3" stroke="#3f7ae0" stroke-width="1.6"/>
<text transform="translate(559,23.6)" class="lg">ZIF-8</text>
<text transform="translate(559,40.8)" class="lg">ZIF-8@Au</text>
<text transform="translate(559,57.7)" class="lg">ZIF-8 &#160;PDF#98-000-1001</text>
<text x="420.5" y="62" class="lb">(011)</text>
<text x="445.4" y="133.5" class="lb">(002)</text>
<text x="468.7" y="114" class="lb">(112)</text>
<text x="492.4" y="145.5" class="lb">(002)</text>
<text x="507.9" y="126.5" class="lb">(013)</text>
<text x="540.9" y="136.8" class="lb">(222)</text>
<text x="572.9" y="145.8" class="lb">(114)</text>
<text x="591.1" y="130.5" class="lb">(233)</text>
<text x="619.8" y="145" class="lb">(134)</text>
</svg>
</body></html>
